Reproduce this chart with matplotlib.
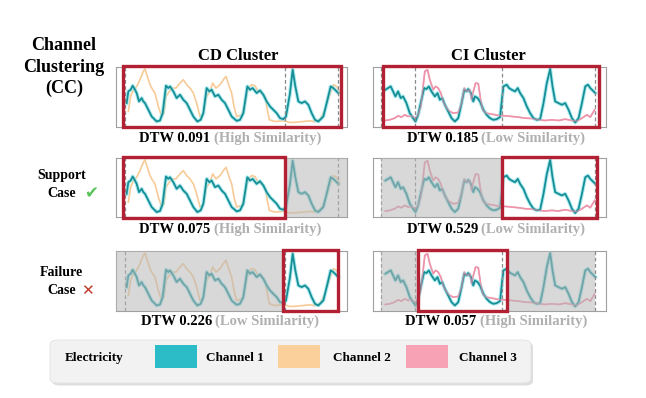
#!/usr/bin/env python3
"""
Channel clustering (CC) figure: CD vs CI cluster, DTW similarity
"""

import matplotlib
matplotlib.use('Agg')
import matplotlib.pyplot as plt
from matplotlib.patches import Rectangle, FancyBboxPatch

# ---- data (time step, load) ----
cd_t1 = [50, 55, 62, 68, 75, 80, 87, 95, 100, 105, 115, 125, 140, 150, 158, 168, 175, 180,
         190, 200, 210, 220, 230, 240, 250, 262, 272, 280, 290, 298, 305, 315, 325, 335,
         345, 355, 365, 380, 390, 400, 412, 420, 428, 440, 450, 460, 470, 480, 490, 500,
         510, 520, 528, 540, 548, 556, 565, 575, 585, 595, 605, 615, 625, 640, 650, 662,
         670, 685]
cd_ch1 = [70, 105, 110, 122, 110, 100, 75, 85, 75, 70, 50, 30, 15, 18, 40, 122, 115, 120,
          105, 85, 95, 80, 70, 50, 30, 15, 20, 40, 115, 105, 110, 90, 95, 80,
          70, 50, 30, 17, 20, 40, 120, 110, 115, 100, 108, 95, 75, 60, 50, 40,
          25, 22, 30, 100, 170, 120, 75, 70, 75, 65, 40, 20, 15, 30, 70, 120,
          115, 100]

cd_t2 = [55, 62, 70, 80, 90, 100, 105, 112, 120, 128, 135, 145, 155, 162, 168, 178, 188,
         198, 210, 220, 230, 240, 250, 260, 270, 280, 290, 300, 308, 318, 330, 340, 348,
         356, 365, 372, 380, 395, 405, 415, 425, 435, 445, 455, 465, 472, 478, 495, 520,
         540, 560, 580, 600, 615, 630, 645, 658, 670, 680, 688]
cd_ch2 = [45, 90, 110, 120, 140, 165, 172, 150, 125, 110, 100, 60, 30, 40, 90, 105, 115,
          115, 130, 140, 125, 115, 100, 70, 30, 40, 90, 105, 130, 115, 125, 140, 150,
          125, 100, 60, 30, 35, 70, 115, 125, 122, 105, 100, 90, 50, 20, 15, 17,
          12, 13, 15, 17, 14, 22, 50, 90, 125, 120, 105]

ci_t1 = [62, 70, 78, 85, 92, 100, 108, 115, 125, 135, 145, 152, 160, 170, 178, 185, 192,
         200, 210, 218, 225, 232, 240, 250, 260, 270, 280, 290, 298, 305, 310, 318, 325,
         330, 338, 345, 355, 365, 375, 385, 395, 405, 415, 425, 432, 440, 450, 458, 465,
         475, 485, 495, 505, 515, 525, 535, 545, 555, 562, 570, 580, 590, 600, 610, 620,
         630, 640, 650, 660, 668, 675, 690]
ci_ch1 = [110, 115, 120, 105, 90, 105, 85, 90, 70, 40, 25, 15, 35, 80, 115, 112, 120,
          105, 90, 100, 80, 85, 65, 45, 25, 15, 25, 70, 110, 105, 112, 100, 75,
          90, 85, 75, 50, 35, 25, 20, 22, 28, 120, 125, 115, 110, 105, 115, 100,
          85, 60, 40, 25, 20, 22, 70, 130, 172, 120, 75, 70, 65, 70, 50, 25,
          12, 25, 70, 120, 125, 115, 100]

ci_t3 = [62, 75, 90, 100, 110, 120, 130, 140, 152, 160, 168, 175, 180, 188, 195, 205, 212,
         220, 228, 235, 245, 255, 265, 280, 290, 298, 305, 315, 320, 325, 332, 340, 347,
         353, 362, 375, 390, 405, 420, 440, 460, 480, 500, 520, 540, 560, 580, 600, 620,
         635, 650, 665, 675, 688]
ci_ch3 = [18, 20, 25, 32, 28, 35, 30, 32, 25, 35, 60, 120, 165, 170, 140, 110, 120,
          115, 100, 75, 55, 45, 40, 42, 70, 115, 105, 110, 80, 105, 130, 128, 80,
          50, 40, 38, 35, 32, 32, 30, 28, 25, 24, 20, 18, 20, 18, 22, 18,
          16, 25, 35, 28, 50]

cd_dtw = ["0.091", "0.075", "0.226"]
cd_sim = ["High", "High", "Low"]
ci_dtw = ["0.185", "0.529", "0.057"]
ci_sim = ["Low", "Low", "High"]
legend_names = ["Channel 1", "Channel 2", "Channel 3"]

# ---- layout (pixels) ----
W, H = 646, 398
RED = '#b31f33'
TEAL = '#168e96'
TEAL_GLOW = '#8fe3ea'
ORANGE = '#f7c58c'
PINK = '#ee8ea6'
SERIF = 'Liberation Serif'

rows_y = [(67, 126.5), (158, 217), (251, 310.5)]
cd_x = (116, 347)
ci_x = (373, 606)
cd_xlim = (18, 711)
ci_xlim = (25, 722)
cd_boxes = [(40, 692), (40, 525), (520, 683)]
ci_boxes = [(55, 700), (410, 695), (160, 425)]
cd_shade = [[], [(525, 711)], [(18, 520)]]
ci_shade = [[], [(50, 410)], [(50, 160), (425, 690)]]
cd_dash = [45, 525, 683]
ci_dash = [50, 152, 410, 690]


def px_rect(x0, y0, x1, y1):
    return [x0 / W, 1 - y1 / H, (x1 - x0) / W, (y1 - y0) / H]


def fx(x):
    return x / W


def fy(y):
    return 1 - y / H


fig = plt.figure(figsize=(W / 100, H / 100), dpi=100)
renderer = fig.canvas.get_renderer()


def draw_panel(ax, xlim, t1, ch1, t2, ch2, col2, box, shades, dashes):
    ax.set_xlim(*xlim)
    ax.set_ylim(0, 178)
    ax.set_xticks([])
    ax.set_yticks([])
    for s in ax.spines.values():
        s.set_color('#a0a0a0')
        s.set_linewidth(0.8)
    ax.plot(t2, ch2, color=col2, lw=1.2, alpha=0.9, zorder=1)
    ax.plot(t1, ch1, color=TEAL_GLOW, lw=2.8, alpha=0.7, zorder=2)
    ax.plot(t1, ch1, color=TEAL, lw=1.3, zorder=3)
    if col2 == PINK:
        ax.plot(t2, ch2, color=col2, lw=1.1, alpha=0.6, zorder=3.5)
    for d in dashes:
        ax.axvline(d, color='#8a8a8a', ls=(0, (3, 2)), lw=0.9, zorder=4)
    for a, b in shades:
        ax.axvspan(a, b, color='#b8b8b8', alpha=0.55, lw=0, zorder=5)
    ax.add_patch(Rectangle((box[0], -0.015), box[1] - box[0], 1.03,
                           transform=ax.get_xaxis_transform(), fill=False,
                           ec=RED, lw=2.4, clip_on=False, zorder=10))


def dtw_label(cx, cy, value, sim):
    t1 = fig.text(0, 0, f"DTW {value}", fontsize=10.5, fontweight='bold',
                  family=SERIF, color='black', va='center', ha='left')
    t2 = fig.text(0, 0, f"({sim} Similarity)", fontsize=10.5, fontweight='bold',
                  family=SERIF, color='#b0b0b0', va='center', ha='left')
    w1 = t1.get_window_extent(renderer).width
    w2 = t2.get_window_extent(renderer).width
    gap = 3.5
    left = cx - (w1 + gap + w2) / 2
    t1.set_position((fx(left), fy(cy)))
    t2.set_position((fx(left + w1 + gap), fy(cy)))


dtw_y = [138, 229.5, 321.5]
for i, (y0, y1) in enumerate(rows_y):
    ax = fig.add_axes(px_rect(cd_x[0], y0, cd_x[1], y1))
    draw_panel(ax, cd_xlim, cd_t1, cd_ch1, cd_t2, cd_ch2, ORANGE,
               cd_boxes[i], cd_shade[i], cd_dash)
    ax = fig.add_axes(px_rect(ci_x[0], y0, ci_x[1], y1))
    draw_panel(ax, ci_xlim, ci_t1, ci_ch1, ci_t3, ci_ch3, PINK,
               ci_boxes[i], ci_shade[i], ci_dash)
    dtw_label(230, dtw_y[i], cd_dtw[i], cd_sim[i])
    dtw_label(496, dtw_y[i], ci_dtw[i], ci_sim[i])

# column titles and row labels
fig.text(fx(238), fy(56), "CD Cluster", fontsize=12, fontweight='bold', family=SERIF,
         ha='center', va='center')
fig.text(fx(488), fy(56), "CI Cluster", fontsize=12, fontweight='bold', family=SERIF,
         ha='center', va='center')
for label, ly in zip(["Channel", "Clustering", "(CC)"], [46, 67, 88]):
    fig.text(fx(64), fy(ly), label, fontsize=13, fontweight='bold', family=SERIF,
             ha='center', va='center')

fig.text(fx(62), fy(176), "Support", fontsize=10, fontweight='bold', family=SERIF,
         ha='center', va='center')
fig.text(fx(62), fy(193), "Case", fontsize=10, fontweight='bold', family=SERIF,
         ha='center', va='center')
fig.text(fx(91), fy(193), "\u2714", fontsize=12, color='#5ac35a', family='DejaVu Sans',
         ha='center', va='center')
fig.text(fx(61), fy(272.5), "Failure", fontsize=10, fontweight='bold', family=SERIF,
         ha='center', va='center')
fig.text(fx(62), fy(290.5), "Case", fontsize=10, fontweight='bold', family=SERIF,
         ha='center', va='center')
fig.text(fx(87), fy(290.5), "\u2715", fontsize=11, color='#c0392b', fontweight='bold',
         family='DejaVu Sans', ha='center', va='center')

# legend box
shadow = FancyBboxPatch((fx(52), fy(385.5)), fx(481), (385.5 - 342) / H,
                        boxstyle="round,pad=0,rounding_size=0.012",
                        transform=fig.transFigure, fc='#c8c8c8', ec='none', alpha=0.6)
box = FancyBboxPatch((fx(50), fy(383)), fx(481), (383 - 340) / H,
                     boxstyle="round,pad=0,rounding_size=0.012",
                     transform=fig.transFigure, fc='#f2f2f2', ec='#e2e2e2', lw=0.6)
fig.patches.extend([shadow, box])
fig.text(fx(94), fy(358), "Electricity", fontsize=9.5, fontweight='bold', family=SERIF,
         ha='center', va='center')
patch_x = [155, 278, 406]
text_x = [235, 362, 488]
patch_c = ['#2bbcc8', '#fbd09a', '#f7a3b5']
for px, tx, c, name in zip(patch_x, text_x, patch_c, legend_names):
    fig.patches.append(Rectangle((fx(px), fy(367.5)), fx(42), (367.5 - 345) / H,
                                 transform=fig.transFigure, fc=c, ec='none'))
    fig.text(fx(tx), fy(358), name, fontsize=9.5, fontweight='bold', family=SERIF,
             ha='center', va='center')

fig.savefig('out.png', dpi=100)
